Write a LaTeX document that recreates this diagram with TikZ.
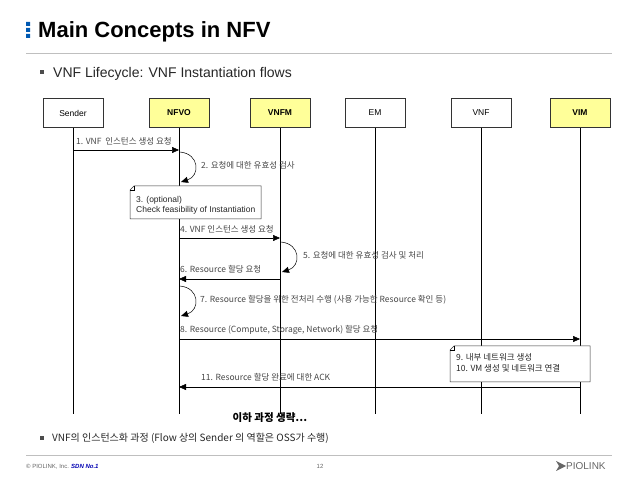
\documentclass[tikz,border=0pt]{standalone}
\usepackage{fontspec}
\setmainfont{Liberation Sans}
\newfontfamily\kr{Noto Sans CJK KR}
\usetikzlibrary{arrows.meta}
\definecolor{ylw}{RGB}{255,255,153}
\definecolor{tgray}{RGB}{70,70,70}
\begin{document}
\begin{tikzpicture}[x=1pt,y=-1pt,
  actor/.style={draw=black!80,line width=0.6pt,minimum width=60pt,minimum height=29pt,inner sep=0pt,font=\fontsize{8.5}{9}\selectfont},
  life/.style={line width=0.8pt},
  msg/.style={line width=0.5pt,-{Triangle[length=7pt,width=6pt]}},
  lbl/.style={anchor=base west,inner sep=0pt,font=\kr\fontsize{8.5}{10}\selectfont,text=tgray},
  note/.style={draw=black!80,line width=0.5pt,fill=white}]
\useasboundingbox (0,0) rectangle (638,478);
% title
\fill[blue!50!cyan!70!black] (26,22) rectangle (30,26) (26,28) rectangle (30,32) (26,34) rectangle (30,38);
\node[anchor=base west,inner sep=0pt,font=\bfseries\fontsize{22}{24}\selectfont] (title) at (38,38) {Main Concepts in NFV};
\draw[black!25,line width=0.8pt] (26,53) -- (612,53);
\fill[black!70] (40,70) rectangle (44,74);
\node[anchor=base west,inner sep=0pt,font=\fontsize{14}{15}\selectfont,text=black!85] (sub) at (53,78) {VNF Lifecycle: VNF Instantiation flows};
% actors
\node[actor] (s) at (73,113) {Sender};
\node[actor,fill=ylw,font=\bfseries\fontsize{8.5}{9}\selectfont] (n) at (179,113) {NFVO};
\node[actor,fill=ylw,font=\bfseries\fontsize{8.5}{9}\selectfont] (m) at (280,113) {VNFM};
\node[actor] (e) at (375,113) {EM};
\node[actor] (v) at (481,113) {VNF};
\node[actor,fill=ylw,font=\bfseries\fontsize{8.5}{9}\selectfont] (vim) at (580,113) {VIM};
\foreach \a in {s,n,m,e,v,vim}{\draw[life] (\a.south) -- ++(0,286) coordinate (\a-end);}
% 1
\draw[msg] (73,150) -- (179,150);
\node[lbl] (l1) at (76,145) {1. VNF \ 인스턴스 생성 요청};
% 2
\draw[msg] (180,152) .. controls (200,154) and (200,176) .. (181,182);
\node[lbl] (l2) at (201,169) {2. 요청에 대한 유효성 검사};
% 3 note
\draw[note] (134,186) -- (261,186) -- (261,219) -- (130,219) -- (130,190) -- cycle;
\draw[line width=0.4pt] (130,190) -- (134,190) -- (134,186);
\node[lbl,font=\fontsize{8.5}{10.5}\selectfont,text=black!85,align=left,anchor=north west] (l3) at (136,196) {3. (optional)\\Check feasibility of Instantiation};
% 4
\draw[msg] (180,238) -- (280,238);
\node[lbl] (l4) at (180,233) {4. VNF 인스턴스 생성 요청};
% 5
\draw[msg] (281,242) .. controls (301,244) and (301,266) .. (282,272);
\node[lbl] (l5) at (303,259) {5. 요청에 대한 유효성 검사 및 처리};
% 6
\draw[msg] (280,279) -- (179,279);
\node[lbl] (l6) at (180,273) {6. Resource 할당 요청};
% 7
\draw[msg] (180,286) .. controls (200,288) and (200,310) .. (181,316);
\node[lbl] (l7) at (200,303) {7. Resource 할당을 위한 전처리 수행 (사용 가능한 Resource 확인 등)};
% 8
\draw[msg] (180,339) -- (580,339);
\node[lbl] (l8) at (180,333) {8. Resource (Compute, Storage, Network) 할당 요청};
% 9 note
\draw[note] (454,346) -- (590,346) -- (590,382) -- (450,382) -- (450,350) -- cycle;
\draw[line width=0.4pt] (450,350) -- (454,350) -- (454,346);
\node[lbl,text=black!85,align=left,anchor=north west,font=\kr\fontsize{8.5}{11}\selectfont] (l9) at (456,353) {9. 내부 네트워크 생성\\10. VM 생성 및 네트워크 연결};
% 11
\draw[msg] (580,387) -- (179,387);
\node[lbl] (l11) at (201,381) {11. Resource 할당 완료에 대한 ACK};
% bottom
\node[inner sep=0pt,font=\kr\bfseries\fontsize{10.5}{12}\selectfont] (omit) at (270,418) {이하 과정 생략…};
\fill[black!70] (40,436) rectangle (44,440);
\node[anchor=base west,inner sep=0pt,font=\kr\fontsize{10}{11}\selectfont,text=black!85] (b2) at (52,442) {VNF의 인스턴스화 과정 (Flow 상의 Sender 의 역할은 OSS가 수행)};
\draw[black!25,line width=0.8pt] (26,455) -- (612,455);
\node[anchor=base west,inner sep=0pt,font=\fontsize{6}{7}\selectfont,text=black!60] (f1) at (26,469) {© PIOLINK, Inc. \textcolor{blue!70!black}{\bfseries\itshape SDN No.1}};
\node[inner sep=0pt,font=\fontsize{6}{7}\selectfont,text=black!60] (pg) at (320,466) {12};
\fill[black!60] (556,461) -- (566,466) -- (556,471) -- (559,466) -- cycle;
\node[anchor=west,inner sep=0pt,font=\fontsize{10}{11}\selectfont,text=black!60] (logo) at (566,466) {PIOLINK};
\end{tikzpicture}
\end{document}
